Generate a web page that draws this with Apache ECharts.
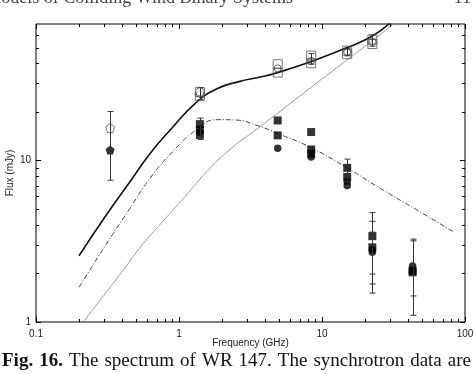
<!DOCTYPE html>
<html><head><meta charset="utf-8">
<script src="https://cdn.jsdelivr.net/npm/echarts@6/dist/echarts.min.js"></script>
<style>html,body{margin:0;padding:0;background:#fff}#c{width:474px;height:374px}</style>
</head><body><div id="c"></div>
<script>
// ---- axis ticks / labels ----
const xMajorTicks = [0.1, 1, 10, 100];
const xTickLabels = ['0.1', '1', '10', '100'];
const yMajorTicks = [1, 10];
const yTickLabels = ['1', '10'];
const xMin = 0.1, xMax = 100, yMin = 1, yMax = 70;

// ---- model curves (GHz, mJy) ----
const thermalFreq = [0.214, 0.3, 0.4, 0.56, 0.8, 1.1, 1.56, 2.27, 3.59, 5, 8.4, 15, 22.5, 33.3];
const thermalFlux = [1.0, 1.47, 2.05, 3.04, 4.35, 5.97, 8.5, 11.7, 15.9, 19.9, 28.4, 42.0, 55.3, 72.5];
const synchFreq = [0.2, 0.3, 0.45, 0.63, 0.9, 1.3, 1.84, 2.5, 3.5, 5, 8.4, 15, 25, 45, 83];
const synchFlux = [1.64, 2.9, 5.0, 7.8, 11.3, 15.3, 17.9, 17.8, 16.5, 14.6, 12.0, 9.0, 6.8, 5.0, 3.62];
const totalFreq = [0.2, 0.3, 0.45, 0.63, 0.9, 1.3, 1.84, 2.67, 3.5, 4.9, 8.4, 15, 22.5, 30];
const totalFlux = [2.57, 4.4, 7.3, 11.1, 16.0, 22.6, 27.8, 30.9, 32.5, 35.0, 41.0, 50.0, 59.0, 71];

// ---- observed total flux (open symbols) ----
const openSqFreq = [1.4, 1.4, 4.9, 4.9, 8.4, 8.4, 15, 15, 22.5, 22.5];
const openSqFlux = [25.0, 26.5, 39.5, 35.0, 44.6, 40.0, 47.9, 45.5, 56.0, 52.6];
const openCircFreq = [1.4, 4.9, 8.4, 15, 22.5];
const openCircFlux = [25.8, 37.2, 41.3, 47.0, 54.3];
const openPentFreq = [0.33, 1.4];
const openPentFlux = [15.9, 26.8];

// ---- observed synchrotron flux (filled symbols) ----
const fillSqFreq = [1.4, 1.4, 1.4, 4.9, 4.9, 8.4, 8.4, 8.4, 15, 15, 22.5, 22.5, 43, 43];
const fillSqFlux = [16.8, 15.5, 14.4, 17.7, 14.3, 15.0, 11.7, 11.0, 9.0, 7.9, 3.4, 2.9, 2.03, 2.08];
const fillCircFreq = [1.4, 4.9, 8.4, 15, 15, 22.5, 22.5, 43];
const fillCircFlux = [15.0, 11.9, 10.5, 7.4, 7.0, 2.8, 2.7, 2.22];
const fillPentFreq = [0.33];
const fillPentFlux = [11.6];

// ---- error bars ----
const errFreq = [0.33, 1.4, 1.4, 8.4, 15, 15, 22.5, 22.5, 22.5, 22.5, 43, 43];
const errLow  = [7.55, 23.8, 13.5, 39.5, 44.5, 6.8, 51.0, 1.51, 1.72, 1.98, 1.10, 1.45];
const errHigh = [20.1, 28.2, 18.3, 46.0, 49.5, 10.2, 60.0, 4.76, 3.6, 4.2, 3.26, 3.18];

// ---- page text ----
const headerText = 'Radio Emission Models of Colliding Wind Binary Systems';
const pageNumber = '11';
const captionWords = ['Fig.', '16.', 'The', 'spectrum', 'of', 'WR', '147.', 'The', 'synchrotron', 'data', 'are'];
const captionBold = [true, true, false, false, false, false, false, false, false, false, false];

const pairs = (a, b) => a.map((v, i) => [v, b[i]]);
const pent = 'path://M0,-10 L9.5,-3.1 L5.9,8.1 L-5.9,8.1 L-9.5,-3.1 Z';

// minor tick values
const xMinor = [], yMinor = [];
for (let d = 0.1; d < 100; d *= 10) for (let k = 2; k <= 9; k++) xMinor.push(+(k * d).toPrecision(3));
for (let d = 1; d < 100; d *= 10) for (let k = 2; k <= 9; k++) { const v = k * d; if (v < yMax) yMinor.push(v); }

function lbl(ticks, labels) {
  return v => {
    const i = ticks.findIndex(t => Math.abs(Math.log10(t) - Math.log10(v)) < 1e-6);
    return i >= 0 ? labels[i] : '';
  };
}

const font = 'Liberation Sans, Arial, sans-serif';
const serif = '"Liberation Serif", "Times New Roman", serif';

// justified caption layout
const capSize = 19, capLeft = 2, capRight = 471;
const mctx = document.createElement('canvas').getContext('2d');
const widths = captionWords.map((w, i) => { mctx.font = (captionBold[i] ? 'bold ' : '') + capSize + 'px ' + serif; return mctx.measureText(w).width; });
const gap = (capRight - capLeft - widths.reduce((a, b) => a + b, 0)) / (captionWords.length - 1);
const captionGraphics = [];
let cx = capLeft;
captionWords.forEach((w, i) => {
  captionGraphics.push({ type: 'text', x: cx, y: 371, style: { text: w, verticalAlign: 'bottom', fontSize: capSize, fontFamily: serif, fontWeight: captionBold[i] ? 'bold' : 'normal', fill: '#111' } });
  cx += widths[i] + gap;
});

const chart = echarts.init(document.getElementById('c'), null, { renderer: 'canvas' });
chart.setOption({
  animation: false,
  backgroundColor: '#fff',
  grid: { left: 36, right: 9, top: 24, bottom: 52, containLabel: false, outerBoundsMode: 'none', show: true, borderColor: '#000', borderWidth: 1, backgroundColor: 'transparent' },
  xAxis: {
    type: 'log', logBase: 10, min: xMin, max: xMax,
    axisLine: { show: false }, axisTick: { show: false }, splitLine: { show: false },
    axisLabel: { formatter: lbl(xMajorTicks, xTickLabels), fontFamily: font, fontSize: 10, color: '#222', margin: 7, showMaxLabel: true },
    name: 'Frequency (GHz)', nameLocation: 'middle', nameGap: 16, nameMoveOverlap: false,
    nameTextStyle: { fontFamily: font, fontSize: 10, color: '#222' }
  },
  yAxis: {
    type: 'log', logBase: 10, min: yMin, max: yMax,
    axisLine: { show: false }, axisTick: { show: false }, splitLine: { show: false },
    axisLabel: { formatter: lbl(yMajorTicks, yTickLabels), fontFamily: font, fontSize: 10, color: '#222', margin: 5 },
    name: 'Flux (mJy)', nameLocation: 'middle', nameGap: 21, nameMoveOverlap: false,
    nameTextStyle: { fontFamily: font, fontSize: 10, color: '#222' }
  },
  graphic: [
    { type: 'text', x: 293, y: 7, style: { text: headerText, align: 'right', verticalAlign: 'bottom', fontSize: 18, fontFamily: serif, fill: '#444' } },
    { type: 'text', x: 471, y: 7, style: { text: pageNumber, align: 'right', verticalAlign: 'bottom', fontSize: 18, fontFamily: serif, fill: '#444' } }
  ].concat(captionGraphics),
  series: [
    { type: 'line', data: pairs(thermalFreq, thermalFlux), smooth: true, symbol: 'none', lineStyle: { color: '#9a9a9a', width: 1 }, z: 2 },
    { type: 'line', data: pairs(synchFreq, synchFlux), smooth: true, symbol: 'none', lineStyle: { color: '#444', width: 1, type: [5, 2, 1, 2] }, z: 2 },
    { type: 'line', data: pairs(totalFreq, totalFlux), smooth: true, symbol: 'none', lineStyle: { color: '#111', width: 1.6 }, z: 3 },
    { type: 'scatter', data: pairs(openSqFreq, openSqFlux), symbol: 'rect', symbolSize: 9, itemStyle: { color: 'rgba(255,255,255,0)', borderColor: '#555', borderWidth: 1 }, z: 4 },
    { type: 'scatter', data: pairs(openCircFreq, openCircFlux), symbol: 'circle', symbolSize: 7, itemStyle: { color: 'rgba(255,255,255,0)', borderColor: '#444', borderWidth: 1 }, z: 4 },
    { type: 'scatter', data: pairs(openPentFreq, openPentFlux), symbol: pent, symbolSize: 9, itemStyle: { color: '#fff', borderColor: '#555', borderWidth: 1 }, z: 4 },
    { type: 'scatter', data: pairs(fillSqFreq, fillSqFlux), symbol: 'rect', symbolSize: 8, itemStyle: { color: '#000' }, z: 5 },
    { type: 'scatter', data: pairs(fillCircFreq, fillCircFlux), symbol: 'circle', symbolSize: 7.5, itemStyle: { color: '#000' }, z: 5 },
    { type: 'scatter', data: pairs(fillPentFreq, fillPentFlux), symbol: pent, symbolSize: 9, itemStyle: { color: '#000' }, z: 5 },
    {
      type: 'custom', z: 6, encode: { x: 0, y: [1, 2] },
      data: errFreq.map((f, i) => [f, errLow[i], errHigh[i]]),
      renderItem: (params, api) => {
        const x = api.value(0);
        const p1 = api.coord([x, api.value(1)]), p2 = api.coord([x, api.value(2)]);
        const w = 3, st = { stroke: '#333', lineWidth: 1 };
        const X = Math.round(p1[0]) + 0.5;
        return { type: 'group', children: [
          { type: 'line', shape: { x1: X, y1: p1[1], x2: X, y2: p2[1] }, style: st },
          { type: 'line', shape: { x1: X - w, y1: p1[1], x2: X + w, y2: p1[1] }, style: st },
          { type: 'line', shape: { x1: X - w, y1: p2[1], x2: X + w, y2: p2[1] }, style: st }
        ] };
      }
    },
    {
      type: 'custom', z: 7, clip: false, data: [[1, 1]], encode: { x: 0, y: 1 },
      renderItem: (params, api) => {
        const ch = [], st = { stroke: '#000', lineWidth: 1 };
        const add = (x1, y1, x2, y2) => ch.push({ type: 'line', shape: { x1, y1, x2, y2 }, style: st });
        const bot = api.coord([xMin, yMin])[1], top = api.coord([xMin, yMax])[1];
        const lft = api.coord([xMin, yMin])[0], rgt = api.coord([xMax, yMin])[0];
        xMajorTicks.forEach(v => { const x = Math.round(api.coord([v, yMin])[0]) + 0.5; add(x, bot, x, bot - 5); add(x, top, x, top + 5); });
        xMinor.forEach(v => { const x = Math.round(api.coord([v, yMin])[0]) + 0.5; add(x, bot, x, bot - 3); add(x, top, x, top + 3); });
        yMajorTicks.forEach(v => { const y = Math.round(api.coord([xMin, v])[1]) + 0.5; add(lft, y, lft + 5, y); add(rgt, y, rgt - 5, y); });
        yMinor.forEach(v => { const y = Math.round(api.coord([xMin, v])[1]) + 0.5; add(lft, y, lft + 3, y); add(rgt, y, rgt - 3, y); });
        return { type: 'group', children: ch };
      }
    }
  ]
});
</script></body></html>
